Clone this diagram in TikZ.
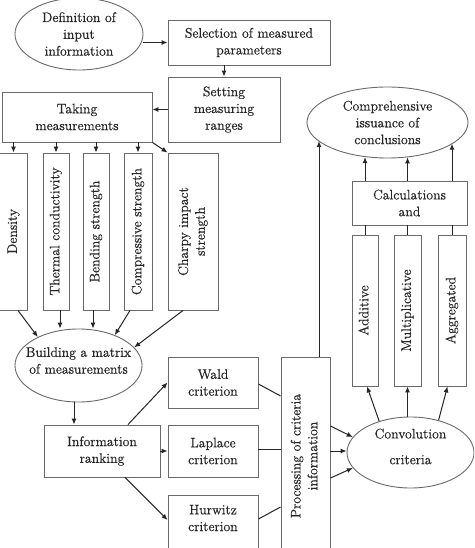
\documentclass[tikz,border=0pt]{standalone}
\usepackage{fontspec}
\usetikzlibrary{arrows.meta,shapes.geometric}
\newfontfamily\dfam{Latin Modern Roman}[FakeBold=0.6]
\newcommand\dfont{\dfam\fontsize{13.8}{16.8}\selectfont}
\definecolor{edge}{HTML}{6A6A6A}
\definecolor{ink}{HTML}{262626}
\tikzset{
  box/.style={draw=edge, line width=0.9pt, rectangle, inner sep=0pt, align=center, font=\dfont, text=ink},
  oval/.style={draw=edge, line width=0.9pt, ellipse, inner sep=0pt, align=center, font=\dfont, text=ink},
  lbl/.style={inner sep=0pt, align=center, font=\dfont, text=ink},
  arr/.style={draw=ink, line width=1pt, -{Latex[length=6pt,width=5pt]}},
  ln/.style={draw=ink, line width=1pt}
}
\newcommand\vtext[1]{\rotatebox{90}{\begin{tabular}{@{}c@{}}#1\end{tabular}}}
\begin{document}
\begin{tikzpicture}[x=1pt,y=-1pt]
\useasboundingbox (0,0) rectangle (474,548);
\clip (0,0) rectangle (474,548);
\fill[white] (0,0) rectangle (474,548);
% top part
\node[oval, minimum width=128pt, minimum height=72pt] (def) at (79,34) {Definition of\\input\\information};
\node[box, minimum width=162pt, minimum height=45pt] (sel) at (249,42.5) {Selection of measured\\parameters};
\node[box, minimum width=112pt, minimum height=65pt] (set) at (224,109.5) {Setting\\measuring\\ranges};
\node[box, minimum width=150pt, minimum height=50pt] (take) at (77,117) {Taking\\measurements};
% measured properties
\node[box, minimum width=28pt, minimum height=157pt] (dens) at (13.5,231.5) {\vtext{Density}};
\node[box, minimum width=26pt, minimum height=157pt] (therm) at (56,231.5) {\vtext{Thermal conductivity}};
\node[box, minimum width=26pt, minimum height=157pt] (bend) at (96,231.5) {\vtext{Bending strength}};
\node[box, minimum width=28pt, minimum height=157pt] (comps) at (138,231.5) {\vtext{Compressive strength}};
\node[box, minimum width=50pt, minimum height=157pt] (charpy) at (193,231.5) {\vtext{Charpy impact\\strength}};
% matrix and ranking
\node[oval, minimum width=127pt, minimum height=73pt, label={[lbl,yshift=5pt]center:{Building a matrix\\of measurements}}] (build) at (78.5,365.5) {};
\node[box, minimum width=116pt, minimum height=52pt] (rank) at (102,451) {Information\\ranking};
\node[box, minimum width=90pt, minimum height=51pt] (wald) at (213,382.5) {Wald\\criterion};
\node[box, minimum width=90pt, minimum height=52pt] (lap) at (213,451) {Laplace\\criterion};
\node[box, minimum width=90pt, minimum height=58pt, label={[lbl,yshift=6pt]center:{Hurwitz\\criterion}}] (hur) at (213,524) {};
\node[box, minimum width=49pt, minimum height=198pt] (proc) at (305.5,456) {\vtext{Processing of criteria\\information}};
\node[oval, minimum width=127pt, minimum height=71pt, label={[lbl,yshift=6pt]center:{Convolution\\[9pt]criteria}}] (conv) at (410.5,452.5) {};
% right column
\node[oval, minimum width=161pt, minimum height=71pt] (comp) at (387.5,122.5) {Comprehensive\\issuance of\\conclusions};
\node[box, minimum width=115pt, minimum height=44pt] (calc) at (409.5,203) {Calculations\\and};
\node[box, minimum width=26pt, minimum height=151pt] (add) at (365,310.5) {\vtext{Additive}};
\node[box, minimum width=27pt, minimum height=151pt] (mult) at (407.5,310.5) {\vtext{Multiplicative}};
\node[box, minimum width=28pt, minimum height=151pt] (agg) at (452,310.5) {\vtext{Aggregated}};
% connectors, top
\draw[arr] (sel.west -| def.east) -- (sel.west);
\draw[arr] (set.north |- sel.south) -- (set.north);
\draw[arr] (set.west) -- (set.west -| take.east);
\draw[arr] (take.south -| dens.north) -- (dens.north);
\draw[arr] (take.south -| therm.north) -- (therm.north);
\draw[arr] (take.south -| bend.north) -- (bend.north);
\draw[arr] (take.south -| comps.north) -- (comps.north);
\draw[arr] (take.south east) -- (charpy.north west);
% properties to matrix
\draw[arr] ([xshift=4.5pt]dens.south) -- (build.145);
\draw[arr] ([xshift=4pt]therm.south) -- ([xshift=4pt]therm.south |- build.north);
\draw[arr] ([xshift=-3pt]bend.south) -- ([xshift=-3pt]bend.south |- build.north);
\draw[arr] ([xshift=-8pt]comps.south) -- (build.40);
\draw[arr] ([xshift=-10pt]charpy.south) -- (build.18);
% matrix to ranking and criteria
\draw[arr] ([xshift=-4.5pt]build.south) -- ([xshift=-4.5pt]build.south |- rank.north);
\draw[arr] ([xshift=26pt]rank.north) -- (wald.west);
\draw[arr] (rank.east) -- (lap.west);
\draw[arr] ([xshift=23pt]rank.south) -- ([yshift=4pt]hur.west);
\draw[ln] ([yshift=-1.5pt]wald.east) -- ([yshift=-13.5pt]wald.east -| proc.west);
\draw[ln] ([yshift=2pt]lap.east) -- ([yshift=2pt]lap.east -| proc.west);
\draw[ln] ([yshift=5pt]hur.east) -- ([yshift=17pt]hur.east -| proc.west);
% processing to convolution
\draw[arr] ([yshift=30pt]proc.east) -- (conv.165);
\draw[arr] ([yshift=5pt]proc.east) -- ([yshift=5pt]proc.east -| conv.west);
\draw[arr] ([yshift=-22pt]proc.east) -- (conv.195);
\draw[arr] ([xshift=13.5pt]proc.north) -- ([xshift=13.5pt]proc.north |- comp.195);
% convolution to methods
\draw[arr] (conv.135) -- ([xshift=2pt]add.south);
\draw[arr] (mult.south |- conv.north) -- (mult.south);
\draw[arr] (conv.49) -- ([xshift=-4.5pt]agg.south);
\draw[ln] (add.north) -- (add.north |- calc.south);
\draw[ln] (mult.north) -- (mult.north |- calc.south);
\draw[ln] (agg.north) -- (agg.north |- calc.south);
\draw[arr] (add.north |- calc.north) -- (add.north |- comp.238);
\draw[arr] (mult.north |- calc.north) -- (mult.north |- comp.300);
\draw[arr] (agg.north |- calc.north) -- (agg.north |- comp.342);
\end{tikzpicture}
\end{document}
